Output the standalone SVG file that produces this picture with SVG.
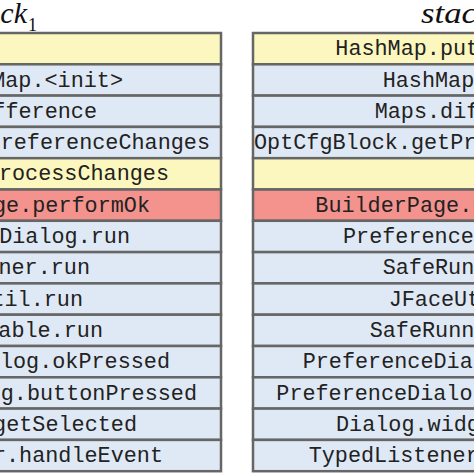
<svg xmlns="http://www.w3.org/2000/svg" width="474" height="474" viewBox="0 0 474 474">
<style>
.row{stroke:#666;stroke-width:2.5}
.y{fill:#fcf7be}
.b{fill:#dfe9f5}
.r{fill:#f4938e}
.t{font-family:"Liberation Mono","Courier New",monospace;font-size:21.8px;fill:#222}
.e{text-anchor:end}
.ti{font-family:"Liberation Serif","Times New Roman",serif;font-style:italic;fill:#111}
</style>
<rect width="474" height="474" fill="#fff"/>
<g id="title1">
<text class="ti" x="27" y="23" font-size="30" text-anchor="end">ck</text>
<text x="28" y="30.5" font-family="Liberation Serif,serif" font-size="18" fill="#111">1</text>
</g>
<g id="title2">
<text class="ti" x="421" y="23" font-size="29" textLength="56" lengthAdjust="spacingAndGlyphs">stac</text>
</g>
<g id="stack1">
<g id="s1r0"><rect class="row y" x="-10" y="33" width="231" height="31.3"/></g>
<g id="s1r1"><rect class="row b" x="-10" y="64.3" width="231" height="31.3"/><text class="t e" x="123" y="86.5">Map.&lt;init&gt;</text></g>
<g id="s1r2"><rect class="row b" x="-10" y="95.6" width="231" height="31.3"/><text class="t e" x="97" y="117.8">fference</text></g>
<g id="s1r3"><rect class="row b" x="-10" y="126.9" width="231" height="31.3"/><text class="t e" x="210" y="149.1">referenceChanges</text></g>
<g id="s1r4"><rect class="row y" x="-10" y="158.2" width="231" height="31.3"/><text class="t e" x="169" y="180.4">rocessChanges</text></g>
<g id="s1r5"><rect class="row r" x="-10" y="189.5" width="231" height="31.3"/><text class="t e" x="150" y="211.7">ge.performOk</text></g>
<g id="s1r6"><rect class="row b" x="-10" y="220.8" width="231" height="31.3"/><text class="t e" x="130" y="243">Dialog.run</text></g>
<g id="s1r7"><rect class="row b" x="-10" y="252.1" width="231" height="31.3"/><text class="t e" x="90" y="274.3">ner.run</text></g>
<g id="s1r8"><rect class="row b" x="-10" y="283.4" width="231" height="31.3"/><text class="t e" x="83" y="305.6">til.run</text></g>
<g id="s1r9"><rect class="row b" x="-10" y="314.7" width="231" height="31.3"/><text class="t e" x="103" y="336.9">able.run</text></g>
<g id="s1r10"><rect class="row b" x="-10" y="346" width="231" height="31.3"/><text class="t e" x="170" y="368.2">log.okPressed</text></g>
<g id="s1r11"><rect class="row b" x="-10" y="377.3" width="231" height="31.3"/><text class="t e" x="197" y="399.5">g.buttonPressed</text></g>
<g id="s1r12"><rect class="row b" x="-10" y="408.6" width="231" height="31.3"/><text class="t e" x="137" y="430.8">getSelected</text></g>
<g id="s1r13"><rect class="row b" x="-10" y="439.9" width="231" height="31.3"/><text class="t e" x="163" y="462.1">r.handleEvent</text></g>
</g>
<g id="stack2">
<g id="s2r0"><rect class="row y" x="253" y="33" width="240" height="31.3"/><text class="t" x="335.3" y="55.2">HashMap.put</text></g>
<g id="s2r1"><rect class="row b" x="253" y="64.3" width="240" height="31.3"/><text class="t" x="382.7" y="86.5">HashMap</text></g>
<g id="s2r2"><rect class="row b" x="253" y="95.6" width="240" height="31.3"/><text class="t" x="374.7" y="117.8">Maps.dif</text></g>
<g id="s2r3"><rect class="row b" x="253" y="126.9" width="240" height="31.3"/><text class="t" x="254" y="149.1">OptCfgBlock.getPr</text></g>
<g id="s2r4"><rect class="row y" x="253" y="158.2" width="240" height="31.3"/></g>
<g id="s2r5"><rect class="row r" x="253" y="189.5" width="240" height="31.3"/><text class="t" x="315.3" y="211.7">BuilderPage.p</text></g>
<g id="s2r6"><rect class="row b" x="253" y="220.8" width="240" height="31.3"/><text class="t" x="343" y="243">Preference</text></g>
<g id="s2r7"><rect class="row b" x="253" y="252.1" width="240" height="31.3"/><text class="t" x="382.7" y="274.3">SafeRun</text></g>
<g id="s2r8"><rect class="row b" x="253" y="283.4" width="240" height="31.3"/><text class="t" x="388.7" y="305.6">JFaceUt</text></g>
<g id="s2r9"><rect class="row b" x="253" y="314.7" width="240" height="31.3"/><text class="t" x="369.7" y="336.9">SafeRunn</text></g>
<g id="s2r10"><rect class="row b" x="253" y="346" width="240" height="31.3"/><text class="t" x="302.7" y="368.2">PreferenceDia</text></g>
<g id="s2r11"><rect class="row b" x="253" y="377.3" width="240" height="31.3"/><text class="t" x="276.3" y="399.5">PreferenceDialo</text></g>
<g id="s2r12"><rect class="row b" x="253" y="408.6" width="240" height="31.3"/><text class="t" x="336" y="430.8">Dialog.widg</text></g>
<g id="s2r13"><rect class="row b" x="253" y="439.9" width="240" height="31.3"/><text class="t" x="308.7" y="462.1">TypedListener</text></g>
</g>
<g id="connectors"></g>
</svg>
